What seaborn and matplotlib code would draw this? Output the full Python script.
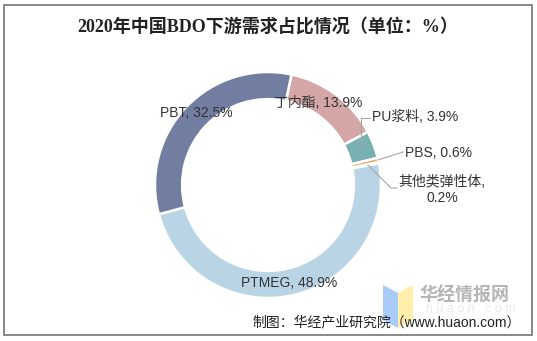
import numpy as np
import matplotlib
matplotlib.use('Agg')
import matplotlib.pyplot as plt
import seaborn as sns
from matplotlib.patches import Polygon, Rectangle

# ---- data ----
categories = ['丁内酯', 'PU浆料', 'PBS', '其他类弹性体', 'PTMEG', 'PBT']
shares = [13.9, 3.9, 0.6, 0.2, 48.9, 32.5]
label_texts = ['丁内酯, 13.9%', 'PU浆料, 3.9%', 'PBS, 0.6%', '其他类弹性体,\n0.2%',
               'PTMEG, 48.9%', 'PBT, 32.5%']
title = '2020年中国BDO下游需求占比情况（单位：%）'
footer = '制图：华经产业研究院（www.huaon.com）'

colors = ['#D4A6A6', '#79B0B1', '#F4A261', '#F2C6A0', '#B9D4E5', '#717DA1']

sns.set_theme(style='white')
plt.rcParams['font.family'] = ['Liberation Sans', 'Noto Sans CJK SC']

W, H = 537, 341
fig = plt.figure(figsize=(W / 100, H / 100), dpi=100)
fig.patch.set_facecolor('white')
cx, cy, R = 268, 185, 113
ax = fig.add_axes([(cx - R) / W, (H - cy - R) / H, 2 * R / W, 2 * R / H])
wedges, _ = ax.pie(shares, colors=colors, startangle=78, counterclock=False, radius=1,
                   wedgeprops=dict(width=0.24, edgecolor='white', linewidth=1.8))
# keep the thin PBS sliver on top so it stays visible
wedges[2].set_zorder(wedges[3].get_zorder() + 1)
ax.set_xlim(-1, 1)
ax.set_ylim(-1, 1)
ax.axis('off')


def p2d(px, py):
    return ((px - cx) / R, (cy - py) / R)


def pol(theta_deg, r):
    t = np.deg2rad(theta_deg)
    return (r * np.cos(t), r * np.sin(t))


def mid(i):
    w = wedges[i]
    return (w.theta1 + w.theta2) / 2


txt_color = '#333333'
lc = '#A6A6A6'

# big labels placed inside ring
big_pos = {0: (318, 103), 4: (289, 283), 5: (196, 113)}
for i, (px, py) in big_pos.items():
    x, y = p2d(px, py)
    ax.text(x, y, label_texts[i], ha='center', va='center', fontsize=10, color=txt_color)

# PU leader
s = pol(mid(1), 0.88)
e1 = (s[0], p2d(0, 118)[1])
e2 = (p2d(370, 0)[0], e1[1])
ax.plot([s[0], e1[0], e2[0]], [s[1], e1[1], e2[1]], color=lc, lw=0.8, clip_on=False)
x, y = p2d(372, 117)
ax.text(x, y, label_texts[1], ha='left', va='center', fontsize=10, color=txt_color)

# PBS leader
s = pol(mid(2), 1.0)
e = p2d(403, 152)
ax.plot([s[0], e[0]], [s[1], e[1]], color=lc, lw=0.8, clip_on=False)
x, y = p2d(405, 153)
ax.text(x, y, label_texts[2], ha='left', va='center', fontsize=10, color=txt_color)

# Other leader
s = pol(mid(3), 0.9)
e1 = p2d(391, 188)
e2 = p2d(397, 188)
ax.plot([s[0], e1[0], e2[0]], [s[1], e1[1], e2[1]], color=lc, lw=0.8, clip_on=False)
x, y = p2d(442, 190)
ax.text(x, y, label_texts[3], ha='center', va='center', fontsize=10, color=txt_color,
        multialignment='center', linespacing=1.25)


def f(px, py):
    return (px / W, 1 - py / H)


# title
fig.text(*f(268, 27), title, ha='center', va='center', fontsize=13, fontweight='bold',
         color='#222222', family=['Liberation Serif', 'Noto Sans CJK SC'])

# watermark logo
fig.patches.append(Polygon([f(383, 285), f(398, 293), f(398, 328), f(383, 320)],
                           closed=True, facecolor='#A9CBF7', edgecolor='none',
                           transform=fig.transFigure))
fig.patches.append(Polygon([f(398, 293), f(413, 285), f(413, 320), f(398, 328)],
                           closed=True, facecolor='#FFEFAA', edgecolor='none',
                           transform=fig.transFigure))
fig.text(*f(420, 295), '华经情报网', ha='left', va='center', fontsize=13, fontweight='bold',
         color='#B5B5B5', family=['Noto Sans CJK SC'])
fig.text(*f(426, 309), 'h u a o n . c o m', ha='left', va='center', fontsize=9,
         color='#E8E8E8')

# footer
fig.text(*f(521, 322), footer, ha='right', va='center', fontsize=10, color='#222222')

# border
fig.patches.append(Rectangle(f(4, 335), 528 / W, 330 / H, fill=False,
                             edgecolor='#7F7F7F', lw=1.3, transform=fig.transFigure))

fig.savefig('out.png', dpi=100)
